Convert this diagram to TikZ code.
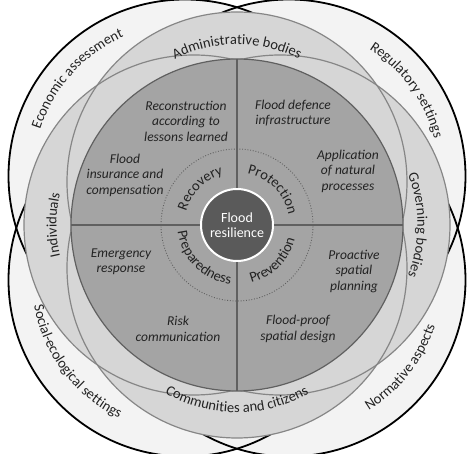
\documentclass[tikz,border=0pt]{standalone}
\usepackage{fontspec}
\setmainfont{Carlito}
\usetikzlibrary{decorations.text}

\definecolor{outerband}{HTML}{F3F3F3}
\definecolor{midband}{HTML}{D6D6D6}
\definecolor{innerdisk}{HTML}{A4A4A4}
\definecolor{core}{HTML}{5A5A5A}
\definecolor{midline}{HTML}{868686}
\definecolor{darkline}{HTML}{606060}
\definecolor{labeltext}{HTML}{222222}

\newcommand\ringfont{\fontsize{14.5}{17}\selectfont\color{labeltext}}

\tikzset{
  arclabel/.style={decorate, decoration={text along path, text align=center, text={|\ringfont|#1}}},
  practice/.style={font=\itshape\fontsize{13.5}{15.5}\selectfont, text=labeltext, align=center}
}

\begin{document}
\begin{tikzpicture}[x=1pt, y=1pt]
    \useasboundingbox (-237,-229) rectangle (237,225);

    % outer circles
    \foreach \sx/\sy in {-52/49, 52/49, -52/-55, 52/-55}
      \fill[outerband] (\sx,\sy) circle (176.5);
    \foreach \sx/\sy in {-52/49, 52/49, -52/-55, 52/-55}
      \draw[line width=1.8] (\sx,\sy) circle (176.5);

    % middle circles
    \foreach \sx/\sy in {0/43, -43/0, 43/0, 0/-43}
      \fill[midband] (\sx,\sy) circle (170);
    \foreach \sx/\sy in {0/43, -43/0, 43/0, 0/-43}
      \draw[midline, line width=1.2] (\sx,\sy) circle (170);

    % inner disk and quadrants
    \draw[fill=innerdisk, draw=darkline, line width=1.2] (0,0) circle (166);
    \coordinate (top) at (0,166);
    \coordinate (bottom) at (0,-166);
    \coordinate (left) at (-166,0);
    \coordinate (right) at (166,0);
    \draw[darkline, line width=2] (top) -- (bottom) (left) -- (right);
    \draw[darkline, line width=0.9, dash pattern=on 0.9pt off 1.8pt] (0,0) circle (76);

    \node[circle, fill=core, draw=white, line width=2, minimum size=72, inner sep=0,
      text=white, align=center, font=\fontsize{14}{15.5}\selectfont] (core) at (0,0) {Flood\\resilience};

    % outer labels
    \path[arclabel=Economic assessment, shift={(-52,49)}]
      (178:152) arc[start angle=178, end angle=98, radius=152];
    \path[arclabel=Regulatory settings, shift={(52,49)}]
      (76:150) arc[start angle=76, end angle=-4, radius=150];
    \path[arclabel=Social-ecological settings, shift={(-52,-55)}]
      (170:153) arc[start angle=170, end angle=264, radius=153];
    \path[arclabel=Normative aspects, shift={(52,-55)}]
      (-80:153) arc[start angle=-80, end angle=4, radius=153];

    % middle labels
    \path[arclabel=Administrative bodies, shift={(0,43)}]
      (140:137.5) arc[start angle=140, end angle=40, radius=137.5];
    \path[arclabel=Individuals, shift={(-43,0)}]
      (230:137.5) arc[start angle=230, end angle=130, radius=137.5];
    \path[arclabel=Governing bodies, shift={(43,0)}]
      (50:137.5) arc[start angle=50, end angle=-50, radius=137.5];
    \path[arclabel=Communities and citizens, shift={(0,-43)}]
      (220:144.5) arc[start angle=220, end angle=320, radius=144.5];

    % quadrant labels
    \path[arclabel=Recovery] (185:52.5) arc[start angle=185, end angle=85, radius=52.5];
    \path[arclabel=Protection] (95:52.5) arc[start angle=95, end angle=-5, radius=52.5];
    \path[arclabel=Preparedness] (165:59.5) arc[start angle=165, end angle=285, radius=59.5];
    \path[arclabel=Prevention] (-105:59.5) arc[start angle=-105, end angle=15, radius=59.5];

    % measures
    \node[practice] (reconstruction) at (-51,104) {Reconstruction\\according to\\lessons learned};
    \node[practice] (insurance) at (-112,50) {Flood\\insurance and\\compensation};
    \node[practice] (defence) at (56,112) {Flood defence\\infrastructure};
    \node[practice] (natural) at (111,54) {Application\\of natural\\processes};
    \node[practice] (emergency) at (-116,-37) {Emergency\\response};
    \node[practice] (riskcomm) at (-59,-104) {Risk\\communication};
    \node[practice] (proactive) at (117,-46) {Proactive\\spatial\\planning};
    \node[practice] (floodproof) at (61,-104) {Flood-proof\\spatial design};

\end{tikzpicture}
\end{document}
